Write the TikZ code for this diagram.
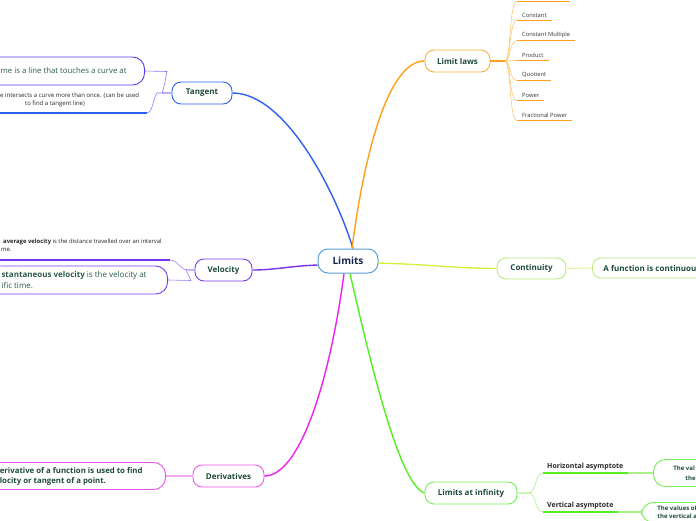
\documentclass[tikz,border=0pt]{standalone}
\usepackage{fontspec}
\setmainfont{Open Sans}
\definecolor{tdark}{HTML}{1E4A3C}
\definecolor{tgreen}{HTML}{2E5A4A}
\definecolor{cdark}{HTML}{1A2550}
\definecolor{cCen}{HTML}{5AA0D8}
\definecolor{cTan}{HTML}{2F5FF5}
\definecolor{cTanSub}{HTML}{5A3CF0}
\definecolor{cTanLine}{HTML}{8877FF}
\definecolor{cLL}{HTML}{FF9F1A}
\definecolor{cLLbox}{HTML}{F8B03C}
\definecolor{cLLline}{HTML}{FAC878}
\definecolor{cCon}{HTML}{D4F040}
\definecolor{cConbox}{HTML}{BDE87C}
\definecolor{cConline}{HTML}{E0F4A0}
\definecolor{cVel}{HTML}{7733EE}
\definecolor{cVelbox}{HTML}{7A3CF0}
\definecolor{cVelline}{HTML}{A080F5}
\definecolor{cDer}{HTML}{EE22EE}
\definecolor{cDerbox}{HTML}{EE55EE}
\definecolor{cDerline}{HTML}{F5AAF5}
\definecolor{cInf}{HTML}{55EE22}
\definecolor{cInfbox}{HTML}{77EE55}
\definecolor{cInfline}{HTML}{AAF08A}
\begin{document}
\begin{tikzpicture}[x=1pt,y=-1pt,
  centre/.style={draw=cCen, line width=1pt, rounded corners=10pt, fill=white,
    font=\fontsize{10}{12}\selectfont\bfseries, text=cdark, inner sep=0pt},
  topic/.style={draw, line width=0.9pt, rounded corners=9pt, fill=white,
    font=\fontsize{8}{10}\selectfont\bfseries, text=tdark, minimum height=22pt, inner sep=0pt},
  subbox/.style={draw, line width=0.9pt, rounded corners=12pt, fill=white, text=tgreen,
    minimum height=28pt, align=left},
  main/.style={line width=1.4pt},
  sub/.style={line width=0.6pt},
  llitem/.style={font=\fontsize{5.8}{7}\selectfont, text=black!80, inner xsep=5pt, inner ysep=2.5pt, anchor=south west},
  llu/.style={draw=cLL, line width=1.4pt},
  infitem/.style={font=\fontsize{7}{8}\selectfont\bfseries, text=black!85, inner xsep=4pt, inner ysep=2.5pt, anchor=south west}
]
\useasboundingbox (0,0) rectangle (696,520);
\clip (0,0) rectangle (696,520);

% main nodes
\node[centre, minimum width=60pt, minimum height=24pt] (L) at (348,261) {Limits};
\node[topic, draw=cTan, minimum width=60pt] (T) at (202,93) {Tangent};
\node[topic, draw=cLLbox, minimum width=65pt] (LL) at (457.5,61) {Limit laws};
\node[topic, draw=cConbox, minimum width=69pt, minimum height=21pt] (C) at (531.5,268.5) {Continuity};
\node[topic, draw=cVelbox, minimum width=57pt] (V) at (223.5,270) {Velocity};
\node[topic, draw=cDerbox, minimum width=71pt] (D) at (228.5,476) {Derivatives};
\node[topic, draw=cInfbox, minimum width=92pt] (LI) at (471,493) {Limits at infinity};

% main connectors
\draw[main, cTan] ([xshift=5pt]L.north) .. controls (335,190) and (285,93) .. (T.east);
\draw[main, cLL] ([xshift=4pt]L.north) .. controls (362,170) and (385,61) .. (LL.west);
\draw[main, cVel] ([yshift=-4pt]L.west) .. controls (290,266) and (275,270) .. (V.east);
\draw[main, cCon] ([yshift=-2pt]L.east) .. controls (440,265) and (450,268) .. (C.west);
\draw[main, cDer] ([xshift=-4pt]L.south) .. controls (330,380) and (300,476) .. (D.east);
\draw[main, cInf] ([xshift=2pt]L.south) .. controls (372,370) and (400,485) .. (LI.west);

% Tangent children
\node[subbox, draw=cTanSub, anchor=east, inner xsep=18pt, font=\fontsize{7.8}{9}\selectfont] (TB1) at (145,71) {me is a line that touches a curve at};
\node[anchor=north west, inner sep=0pt, align=left, font=\fontsize{6}{8}\selectfont, text=black!85] (TI2) at (0,93)
  {e intersects a curve more than once. (can be used\\\hspace*{25pt}to find a tangent line)};
\coordinate (TI2e) at (147,113);
\coordinate (TI2w) at (0,113);
\draw[line width=1.2pt, cTan] (TI2w) -- (TI2e);
\draw[sub, cTanLine] (T.west) -- (162,93) .. controls (165,85) and (166,75) .. (167,71.5) -- (TB1.east);
\draw[sub, cTanLine] (T.west) -- (157,93) .. controls (153,98) and (153,112) .. (TI2e);

% Limit laws children
\draw[line width=1.4pt, cLL] (LL.east) -- (505,61) coordinate (LLb);
\node[llitem, minimum width=53pt] (l0) at (517,1.5) {};
\node[llitem] (l1) at (517,20.5) {Constant};
\node[llitem] (l2) at (517,40.5) {Constant Multiple};
\node[llitem] (l3) at (517,60.5) {Product};
\node[llitem] (l4) at (517,80.5) {Quotient};
\node[llitem] (l5) at (517,100.5) {Power};
\node[llitem] (l6) at (517,120.5) {Fractional Power};
\foreach \n in {l0,l1,l2,l3,l4,l5,l6}{
  \draw[llu] (\n.south west) -- (\n.south east);
  \draw[sub, cLLline] (LLb) .. controls (511,61) and (509,0 |- \n.south) .. (\n.south west);
}

% Continuity child
\node[topic, draw=cConbox, anchor=west, inner xsep=11pt, minimum height=20pt] (CB) at (592,268) {A function is continuou};
\draw[line width=1pt, cConline] (C.east) -- (CB.west);

% Velocity children
\node[anchor=north west, inner sep=0pt, align=left, font=\fontsize{5.9}{8.5}\selectfont, text=black!85] (VI1) at (1,238.5)
  {\hspace*{2pt}\textbf{average velocity} is the distance travelled over an interval\\me.};
\coordinate (VI1w) at (0,260);
\coordinate (VI1e) at (170,260);
\draw[line width=1.3pt, cVel] (VI1w) -- (VI1e);
\node[subbox, draw=cVelbox, anchor=east, inner xsep=21pt, font=\fontsize{8}{11}\selectfont] (VB2) at (168,280)
  {\textbf{stantaneous velocity} is the velocity at\\ific time.};
\draw[sub, cVelline] (V.west) -- (188,270) .. controls (180,270) and (178,260) .. (VI1e);
\draw[sub, cVelline] (V.west) -- (186,270) -- (191,280.5) -- (VB2.east);

% Derivatives child
\node[subbox, draw=cDerbox, anchor=east, inner xsep=23pt, minimum height=27pt, text=tdark,
  font=\fontsize{7.8}{10}\selectfont\bfseries] (DB) at (166,476)
  {erivative of a function is used to find\\locity or tangent of a point.};
\draw[line width=1.2pt, cDerline] (D.west) -- (DB.east);

% Limits at infinity children
\node[infitem] (HA) at (543,473) {Horizontal asymptote};
\node[infitem] (VA) at (543,512) {Vertical asymptote};
\draw[line width=1.5pt, cInf] (HA.south west) -- (HA.south east);
\draw[line width=1.5pt, cInf] (VA.south west) -- (VA.south east);
\draw[sub, cInfline] (LI.east) -- (529,493) .. controls (536,493) and (535,473) .. (HA.south west);
\draw[sub, cInfline] (LI.east) -- (529,493) .. controls (536,493) and (535,512) .. (VA.south west);
\node[subbox, draw=cInfbox, anchor=west, inner xsep=20pt, minimum height=27pt, text=tdark,
  font=\fontsize{6}{10}\selectfont\bfseries] (HAB) at (653,473) {The val\\\hspace*{12pt}the};
\node[subbox, draw=cInfbox, anchor=north west, inner xsep=16pt, inner ysep=3pt, minimum height=20pt, text=tdark,
  font=\fontsize{6}{8}\selectfont\bfseries] (VAB) at (641,502) {The values of\\the vertical a};
\draw[line width=1.2pt, cInfline] (HA.south east) -- (HAB.west);
\draw[line width=1.2pt, cInfline] (VA.south east) -- (VAB.west |- VA.south east);
\end{tikzpicture}
\end{document}
